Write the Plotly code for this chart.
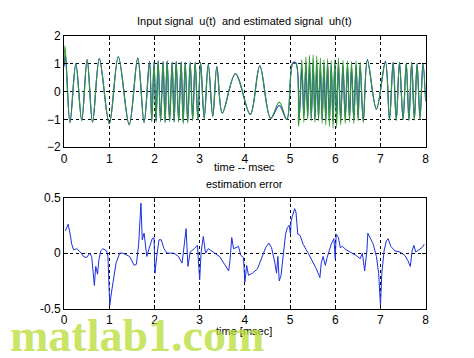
import plotly.graph_objects as go

# ---- top panel: input signal u(t) (blue), extrema ----
u_t = [0.0, 0.03, 0.13, 0.26, 0.39, 0.51, 0.63, 0.78, 1.0, 1.2, 1.44, 1.63, 1.77, 1.89, 1.94, 1.99,
       2.035, 2.08, 2.135, 2.19, 2.235, 2.28, 2.335, 2.39, 2.435, 2.48, 2.535, 2.59, 2.635, 2.68,
       2.735, 2.79, 2.845, 2.90, 2.96, 3.02, 3.10, 3.19, 3.29, 3.38, 3.50, 3.79, 4.12, 4.33, 4.57,
       4.76, 4.93, 5.06, 5.13, 5.20,
       5.26, 5.305, 5.35, 5.39, 5.43, 5.47, 5.51, 5.55, 5.59, 5.63, 5.67, 5.71, 5.75, 5.79, 5.83,
       5.87, 5.91, 5.95, 5.99, 6.03, 6.07, 6.12, 6.17, 6.22, 6.27, 6.315, 6.36, 6.41, 6.46, 6.505,
       6.55, 6.62, 6.71, 6.91, 7.11, 7.20, 7.28, 7.35, 7.42, 7.50, 7.57, 7.63, 7.69, 7.75, 7.81,
       7.875, 7.94, 8.0]
u_v = [0.9, 1.3, -1.1, 1.0, -1.02, 1.15, -1.1, 1.18, -1.15, 1.25, -1.18, 1.2, -1.1, 1.08, -1.05, 1.05,
       -1.05, 1.1, -1.05, 1.08, -1.08, 1.1, -1.05, 1.05, -1.08, 1.08, -1.05, 1.07, -1.1, 1.05,
       -1.08, 1.05, -1.0, 1.05, -1.0, 1.05, -0.95, 0.98, -0.88, 0.9, -0.77, 0.64, -0.82, 0.92, -0.96,
       -0.5, -1.0, 1.03, 1.03, -1.0,
       0.85, -0.85, 0.95, -0.9, 1.0, -0.95, 1.0, -1.0, 0.95, -0.95, 0.9, -1.0, 0.95, -1.0, 1.0,
       -1.05, 0.95, -1.05, 1.0, -1.0, 1.0, -1.0, 0.95, -0.95, 0.95, -0.95, 0.9, -1.0, 0.95, -0.95,
       0.95, -1.05, 1.15, -0.63, 1.08, -1.0, 1.05, -1.0, 1.05, -0.98, 1.02, -1.0, 1.05, -1.0, 1.0,
       -0.95, 1.0, -0.35]

# ---- top panel: estimated signal uh(t) (green) ----
uh_t = [0.0, 0.02, 0.13, 0.26, 0.39, 0.51, 0.63, 0.78, 1.0, 1.2, 1.44, 1.63, 1.77, 1.89, 1.94, 1.99,
        2.035, 2.08, 2.135, 2.19, 2.235, 2.28, 2.335, 2.39, 2.435, 2.48, 2.535, 2.59, 2.635, 2.68,
        2.735, 2.79, 2.845, 2.90, 2.96, 3.02, 3.10, 3.19, 3.29, 3.38, 3.50, 3.79, 4.12, 4.33, 4.57,
        4.76, 4.93, 5.06, 5.13, 5.19,
        5.26, 5.305, 5.35, 5.39, 5.43, 5.47, 5.51, 5.55, 5.59, 5.63, 5.67, 5.71, 5.75, 5.79, 5.83,
        5.87, 5.91, 5.95, 5.99, 6.03, 6.07, 6.12, 6.17, 6.22, 6.27, 6.315, 6.36, 6.41, 6.46, 6.505,
        6.55, 6.62, 6.71, 6.91, 7.11, 7.20, 7.28, 7.35, 7.42, 7.50, 7.57, 7.63, 7.69, 7.75, 7.81,
        7.875, 7.94, 8.0]
uh_v = [1.0, 1.65, -1.12, 1.0, -1.05, 1.15, -1.1, 1.18, -1.15, 1.25, -1.2, 1.2, -1.12, 1.08, -1.08, 1.05,
        -1.1, 1.1, -1.08, 1.08, -1.12, 1.1, -1.08, 1.05, -1.1, 1.08, -1.1, 1.07, -1.15, 1.05,
        -1.12, 1.05, -1.05, 1.05, -1.02, 1.05, -0.97, 0.98, -0.9, 0.9, -0.77, 0.64, -0.82, 0.92, -0.96,
        -0.38, -1.0, 1.0, 1.0, -1.24,
        1.15, -1.1, 1.25, -1.0, 1.3, -1.05, 1.32, -1.1, 1.28, -1.05, 1.2, -1.15, 1.15, -1.2, 1.18,
        -1.25, 1.1, -1.32, 1.15, -1.3, 1.2, -1.2, 1.12, -1.15, 1.1, -1.1, 1.08, -1.15, 1.1, -1.05,
        1.05, -1.12, 1.12, -0.63, 1.06, -1.03, 1.05, -1.05, 1.05, -1.02, 1.02, -1.05, 1.05, -1.03, 1.0,
        -1.0, 1.0, -0.35]

# ---- bottom panel: estimation error ----
e_t = [0.03, 0.09, 0.13, 0.17, 0.21, 0.28, 0.36, 0.43, 0.50, 0.57, 0.61, 0.67, 0.70, 0.74, 0.77,
       0.81, 0.86, 0.94, 0.97, 1.01, 1.05, 1.10, 1.15, 1.23, 1.30, 1.45, 1.55, 1.60, 1.65, 1.70,
       1.73, 1.77, 1.83, 1.88, 1.95, 1.99, 2.01, 2.05, 2.10, 2.15, 2.21, 2.28, 2.43, 2.53, 2.61,
       2.66, 2.70, 2.74, 2.79, 2.88, 2.95, 3.00, 3.03, 3.08, 3.13, 3.19, 3.30, 3.44, 3.55, 3.64,
       3.67, 3.71, 3.75, 3.80, 3.86, 3.91, 3.97, 4.00, 4.04, 4.08, 4.17, 4.28, 4.39, 4.46, 4.53,
       4.59, 4.66, 4.70, 4.73, 4.76, 4.80, 4.86, 4.90, 4.94, 4.98, 5.01, 5.02, 5.05, 5.10, 5.13,
       5.17, 5.22, 5.29, 5.40, 5.51, 5.58, 5.66, 5.69, 5.73, 5.78, 5.82, 5.91, 5.97, 6.00, 6.02,
       6.07, 6.11, 6.16, 6.24, 6.34, 6.46, 6.55, 6.60, 6.65, 6.70, 6.72, 6.78, 6.84, 6.91, 6.96,
       7.00, 7.03, 7.08, 7.13, 7.17, 7.23, 7.32, 7.43, 7.54, 7.61, 7.66, 7.70, 7.74, 7.78, 7.85,
       7.92, 7.97]
e_v = [0.20, 0.26, 0.18, 0.08, 0.03, 0.04, 0.01, -0.03, -0.04, 0.0, -0.03, -0.29, -0.12, -0.19, -0.06,
       0.02, 0.04, 0.02, -0.03, -0.47, -0.35, -0.21, -0.09, 0.0, 0.0, -0.03, -0.11, -0.10, 0.08, 0.45,
       0.12, 0.18, -0.03, 0.04, 0.13, 0.14, -0.18, -0.03, 0.12, 0.12, 0.04, 0.0, 0.0, -0.03, -0.09,
       0.08, 0.22, -0.12, 0.01, 0.04, 0.07, -0.24, 0.0, 0.15, 0.0, 0.04, 0.01, -0.03, -0.10, -0.16,
       -0.07, 0.14, 0.04, 0.05, 0.06, -0.02, -0.04, -0.26, -0.11, -0.20, -0.18, -0.14, -0.03, 0.05, 0.09,
       0.05, -0.08, -0.18, -0.03, -0.25, -0.20, 0.0, 0.17, 0.23, 0.25, 0.17, 0.28, 0.33, 0.40, 0.37,
       0.17, 0.16, 0.08, 0.0, -0.08, -0.14, -0.22, -0.09, -0.03, -0.11, -0.04, 0.08, 0.13, -0.05, 0.17,
       0.14, 0.05, 0.06, 0.03, 0.01, -0.02, -0.05, 0.0, -0.16, 0.02, 0.18, 0.13, 0.08, -0.03, -0.18,
       -0.47, -0.18, 0.02, 0.11, 0.13, 0.06, 0.02, 0.01, -0.02, -0.07, -0.12, 0.02, 0.07, 0.01, 0.03,
       0.05, 0.08]

x_ticks = [0, 1, 2, 3, 4, 5, 6, 7, 8]
y1_ticks = [-2, -1, 0, 1, 2]
y2_ticks = [-0.5, 0, 0.5]
y2_labels = ["-0.5", "0", "0.5"]

W, H = 474, 358
BLUE = "#1a2fe0"
GREEN = "#339933"

fig = go.Figure()
fig.add_trace(go.Scatter(x=u_t, y=u_v, mode="lines", line=dict(color=BLUE, width=1.2, shape="spline"),
                         xaxis="x", yaxis="y", showlegend=False))
fig.add_trace(go.Scatter(x=uh_t, y=uh_v, mode="lines", line=dict(color=GREEN, width=1.1, shape="spline"),
                         xaxis="x", yaxis="y", showlegend=False))
fig.add_trace(go.Scatter(x=e_t, y=e_v, mode="lines", line=dict(color=BLUE, width=1.0),
                         xaxis="x2", yaxis="y2", showlegend=False))

xd = [62 / W, 429 / W]
axis_common = dict(showline=True, linecolor="black", linewidth=1, mirror="ticks",
                   ticks="inside", ticklen=4, tickcolor="black",
                   showgrid=True, gridcolor="black", gridwidth=1, griddash="3px,3px",
                   zeroline=False, tickfont=dict(family="Liberation Sans, Arial", size=12, color="black"))

fig.update_layout(
    width=W, height=H, margin=dict(l=0, r=0, t=0, b=0),
    paper_bgcolor="white", plot_bgcolor="white",
    xaxis=dict(domain=xd, range=[0, 8], tickvals=x_ticks, anchor="y", **axis_common),
    yaxis=dict(domain=[1 - 146 / H, 1 - 30 / H], range=[-2, 2], tickvals=y1_ticks, anchor="x", **axis_common),
    xaxis2=dict(domain=xd, range=[0, 8], tickvals=x_ticks, anchor="y2", **axis_common),
    yaxis2=dict(domain=[1 - 314 / H, 1 - 198.3 / H], range=[-0.5, 0.5], tickvals=y2_ticks,
                ticktext=y2_labels, anchor="x2", **axis_common),
)

def txt(s, xpx, ypx, size=11, **kw):
    fig.add_annotation(text=s, x=xpx / W, y=1 - ypx / H, xref="paper", yref="paper",
                       showarrow=False, xanchor="center", yanchor="middle",
                       font=dict(family="Liberation Sans, Arial", size=size, color="black"), **kw)

txt("Input signal  u(t)  and estimated signal  uh(t)", 245, 15)
txt("time -- msec", 245, 167)
txt("estimation error", 245, 184)
txt("time [msec]", 245, 337)

fig.add_annotation(text="<b>matlab1.com</b>", x=5 / W, y=1 - 342 / H, xref="paper", yref="paper",
                   showarrow=False, xanchor="left", yanchor="middle",
                   font=dict(family="Liberation Serif, Times New Roman", size=46,
                             color="rgba(185,222,60,0.8)"))

fig.write_html("out.html")
